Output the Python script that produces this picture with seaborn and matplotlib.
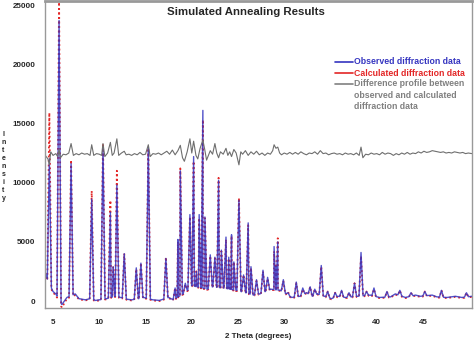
import numpy as np
import pandas as pd
import matplotlib
matplotlib.use("Agg")
import matplotlib.pyplot as plt
from matplotlib.lines import Line2D
import seaborn as sns

# ---------------- data ----------------
peak_theta = [4.6, 5.65, 6.95, 9.18, 10.4, 11.2, 11.5, 11.9, 12.7, 14.0, 14.5, 15.3,
              17.2, 18.2, 18.5, 18.76, 19.3, 19.8, 20.2, 20.5, 20.8, 21.2, 21.42,
              22.0, 22.5, 22.9, 23.2, 23.7, 24.0, 24.3, 24.55, 25.1, 25.6, 26.1,
              26.4, 27.0, 27.7, 28.2, 28.9, 29.1, 29.3, 29.9, 30.4, 31.3, 32.0,
              32.8, 33.3, 34.0, 34.7, 35.5, 36.2, 37.0, 37.6, 38.3, 38.9, 39.7,
              41.1, 42.5, 43.7, 45.2, 47.0, 49.7]
peak_obs = [12000, 23700, 11600, 8600, 13000, 7500, 2900, 9800, 4000, 2800, 3200, 13000,
            3600, 1100, 5200, 11000, 1500, 7300, 12200, 2500, 7300, 16100, 7100,
            3900, 3700, 10200, 4300, 5400, 3700, 5600, 3300, 8500, 2200, 6600,
            2900, 1800, 2600, 2000, 4600, 2900, 5000, 1800, 700, 1600, 1100,
            1200, 1000, 3000, 800, 700, 900, 700, 1500, 4100, 800, 1100,
            800, 900, 700, 800, 900, 700]
peak_calc = [15900, 25600, 11900, 9300, 13300, 8500, 2900, 11000, 4000, 2700, 3200, 12900,
             3700, 1100, 5000, 11200, 1400, 7100, 11800, 2500, 7000, 15300, 7000,
             3800, 3600, 10400, 4200, 5200, 3600, 5500, 3300, 8700, 2200, 6400,
             2800, 1700, 2500, 1900, 4200, 3000, 5300, 1700, 800, 1500, 1000,
             1200, 1000, 2900, 800, 700, 800, 700, 1500, 3800, 800, 1000,
             800, 900, 700, 800, 900, 700]

bg_theta = [4.13, 4.4, 5.0, 5.3, 5.95, 6.5, 7.4, 7.8, 8.5, 9.0, 9.6, 10.0, 10.8, 11.65,
            12.3, 13.0, 13.5, 14.25, 14.8, 15.8, 16.5, 17.5, 18.0, 19.05, 19.55,
            20.0, 21.7, 22.25, 23.45, 24.8, 25.85, 26.7, 27.35, 28.55, 29.6, 30.8,
            31.7, 32.4, 33.05, 33.6, 35.1, 35.85, 36.6, 37.3, 39.3, 40.3, 41.5,
            42.0, 43.1, 44.2, 44.7, 46.0, 46.5, 47.6, 48.5, 49.2, 50.3]
bg_obs = [2500, 1800, 800, 600, -300, 300, 600, 200, 100, 200, 50, 100, 200, 400,
          300, 150, 100, 200, 300, 100, 50, 300, 100, 600, 900,
          1300, 1000, 1200, 1100, 900, 700, 500, 600, 1000, 900, 300,
          400, 700, 400, 600, 200, 400, 300, 350, 500, 300, 350,
          600, 300, 500, 400, 500, 350, 300, 400, 300, 400]
bg_calc = [2400, 1700, 700, 500, -550, 200, 500, 150, 50, 150, 0, 50, 150, 350,
           250, 100, 50, 150, 250, 50, 0, 250, 50, 550, 850,
           1250, 950, 1150, 1050, 850, 650, 450, 550, 950, 850, 250,
           350, 650, 350, 550, 150, 350, 250, 300, 450, 250, 300,
           550, 250, 450, 350, 450, 300, 250, 350, 250, 350]

diff_theta = [4.15, 4.45, 4.6, 4.75, 5.0, 5.3, 5.5, 5.65, 5.8, 6.1, 6.4, 6.7, 6.95, 7.2,
              7.5, 7.8, 8.1, 8.4, 8.7, 9.0, 9.18, 9.4, 9.7, 10.0, 10.25, 10.4, 10.6,
              10.9, 11.2, 11.4, 11.6, 11.9, 12.1, 12.4, 12.7, 12.9, 13.2, 13.5, 13.8,
              14.1, 14.4, 14.7, 15.0, 15.3, 15.5, 15.8, 16.1, 16.4, 16.7, 17.0, 17.3,
              17.6, 17.9, 18.2, 18.5, 18.76, 19.0, 19.2, 19.5, 19.8, 20.0, 20.2, 20.45,
              20.65, 20.9, 21.2, 21.4, 21.6, 21.8, 22.0, 22.25, 22.5, 22.7, 22.9, 23.1,
              23.4, 23.7, 23.9, 24.1, 24.3, 24.55, 24.8, 25.1, 25.3, 25.5, 25.8, 26.1,
              26.4, 26.7, 27.0, 27.3, 27.6, 27.9, 28.2, 28.5, 28.75, 28.9, 29.1, 29.3,
              29.5, 29.7, 30.0, 30.3, 30.6, 30.9, 31.2, 31.5, 31.8, 32.1, 32.4, 32.7,
              33.0, 33.3, 33.6, 33.9, 34.2, 34.5, 34.8, 35.1, 35.4, 35.7, 36.0, 36.3,
              36.6, 36.9, 37.2, 37.5, 37.8, 38.1, 38.3, 38.5, 38.8, 39.1, 39.4, 39.7,
              40.0, 40.3, 40.6, 40.9, 41.2, 41.5, 41.8, 42.1, 42.4, 42.7, 43.0, 43.3,
              43.6, 43.9, 44.2, 44.5, 44.8, 45.1, 45.4, 45.7, 46.0, 46.3, 46.6, 46.9,
              47.2, 47.5, 47.8, 48.1, 48.4, 48.7, 49.0, 49.3, 49.6, 49.9, 50.3]
diff_value = [12300, 12000, 11500, 12600, 12300, 12450, 12200, 12800, 12100, 12400, 12350,
              12500, 13300, 12300, 12450, 12350, 12500, 12400, 12450, 12300, 13200, 12300,
              12450, 12400, 12300, 13300, 12200, 12500, 13400, 12300, 12500, 13700, 12300,
              12500, 12650, 12350, 12400, 12300, 12450, 12350, 12550, 12350, 12400, 13200,
              12200, 12450, 12400, 12500, 12350, 12500, 12650, 12400, 12750, 12350, 12700,
              13150, 12100, 11800, 12600, 13700, 12500, 13500, 12300, 12000, 12900, 13600,
              12800, 11900, 12300, 12700, 12400, 13300, 12500, 12100, 12600, 12400, 12900,
              12300, 12600, 12200, 12800, 12500, 11500, 12600, 12400, 12700, 12300, 12600,
              12400, 12650, 12350, 12500, 12300, 12500, 12400, 12700, 13200, 12900, 13000,
              12500, 12350, 12500, 12400, 12550, 12400, 12550, 12400, 12600, 12450, 12350,
              12500, 12450, 12600, 12400, 12700, 12450, 12500, 12350, 12450, 12500, 12400,
              12450, 12350, 12500, 12400, 12450, 12350, 12500, 12300, 13000, 12100, 12400,
              12350, 12500, 12400, 12450, 12350, 12550, 12400, 12500, 12450, 12300, 12450,
              12350, 12500, 12400, 12550, 12400, 12500, 12450, 12600, 12500, 12650, 12550,
              12600, 12700, 12650, 12600, 12550, 12600, 12500, 12550, 12500, 12600, 12550,
              12500, 12550, 12450, 12500, 12450]

x_ticks = [5, 10, 15, 20, 25, 30, 35, 40, 45]
y_ticks = [0, 5000, 10000, 15000, 20000, 25000]

title = "Simulated Annealing Results"
legend_labels = ["Observed diffraction data", "Calculated diffraction data",
                 "Difference profile between\nobserved and calculated\ndiffraction data"]


def build_profile(pt, ph, bt, bv, hw=0.22):
    """Join peak apexes (with base points) and background points into one polyline."""
    pt = np.asarray(pt, float)
    bt = np.asarray(bt, float)
    bv = np.asarray(bv, float)
    xs, ys = [], []
    for t, h in zip(pt, ph):
        for dx, top in ((-hw, False), (0.0, True), (hw, False)):
            x = t + dx
            xs.append(x)
            ys.append(h if top else np.interp(x, bt, bv))
    keep = [np.all(np.abs(pt - b) > hw) for b in bt]
    xs += list(bt[keep])
    ys += list(bv[keep])
    order = np.argsort(xs, kind="stable")
    return pd.DataFrame({"theta": np.asarray(xs)[order], "intensity": np.asarray(ys)[order]})


obs_df = build_profile(peak_theta, peak_obs, bg_theta, bg_obs)
calc_df = build_profile(peak_theta, peak_calc, bg_theta, bg_calc)
diff_df = pd.DataFrame({"theta": diff_theta, "intensity": diff_value})

# ---------------- drawing ----------------
sns.set_style("white")
plt.rcParams["font.family"] = ["Liberation Sans", "DejaVu Sans"]
plt.rcParams["font.weight"] = "bold"

W, H = 474, 343
fig = plt.figure(figsize=(W / 100, H / 100), dpi=100)
ax = fig.add_axes([45 / W, 1 - 308 / H, (472 - 45) / W, (308 - 1) / H])

BLUE = "#3535c0"
RED = "#e32626"
GRAY = "#6e6e6e"

sns.lineplot(data=calc_df, x="theta", y="intensity", ax=ax, sort=False, estimator=None,
             color=RED, lw=1.3, linestyle=(0, (1, 1.5)))
sns.lineplot(data=obs_df, x="theta", y="intensity", ax=ax, sort=False, estimator=None,
             color=BLUE, lw=1.0, alpha=0.85)
sns.lineplot(data=diff_df, x="theta", y="intensity", ax=ax, sort=False, estimator=None,
             color=GRAY, lw=0.8)

ax.set_xlim(4.13, 50.3)
ax.set_ylim(-590, 25340)
ax.set_xticks(x_ticks)
ax.set_yticks(y_ticks)
ax.set_xticklabels([str(v) for v in x_ticks], fontsize=5.8, fontweight="bold")
ax.set_yticklabels([str(v) for v in y_ticks], fontsize=5.8, fontweight="bold")
ax.tick_params(axis="y", direction="out", length=4, width=0.8, color="#888888", pad=3)
ax.tick_params(axis="x", direction="in", length=4, width=0.8, color="#888888", pad=8)
ax.set_xlabel("2 Theta (degrees)", fontsize=5.8, fontweight="bold", labelpad=5)
ax.set_ylabel("")

for side in ["left", "bottom", "right"]:
    ax.spines[side].set_color("#999999")
    ax.spines[side].set_linewidth(1.0)
ax.spines["top"].set_color("#999999")
ax.spines["top"].set_linewidth(2.0)

fig.text(3.5 / W, 1 - 166 / H, "I\nn\nt\ne\nn\ns\ni\nt\ny", fontsize=5, fontweight="bold",
         ha="center", va="center", linespacing=1.2)

fig.text(246 / W, 1 - 12 / H, title, fontsize=8.2, fontweight="bold", ha="center", va="center")

# legend (drawn manually to match layout)
leg_colors = [BLUE, RED, "#808080"]
leg_y = [62, 73, 84]
for lab, col, yy in zip(legend_labels, leg_colors, leg_y):
    fig.add_artist(Line2D([335 / W, 353 / W], [1 - yy / H, 1 - yy / H], color=col,
                          lw=1.2, transform=fig.transFigure))
    fig.text(354 / W, 1 - (yy - 4.5) / H, lab, fontsize=6.3, fontweight="bold", color=col,
             ha="left", va="top", linespacing=1.3)

fig.savefig("out.png", dpi=100)
